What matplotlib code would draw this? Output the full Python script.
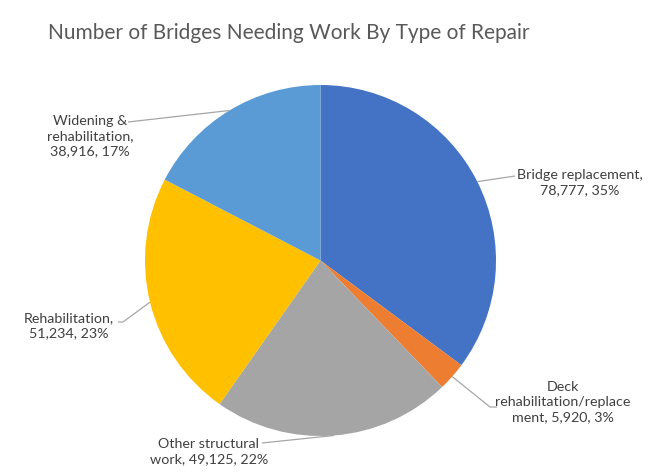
import matplotlib
matplotlib.use("Agg")
import matplotlib.pyplot as plt
import numpy as np

categories = ["Bridge replacement", "Deck rehabilitation/replacement",
              "Other structural work", "Rehabilitation", "Widening & rehabilitation"]
values = [78777, 5920, 49125, 51234, 38916]
colors = ["#4472C4", "#ED7D31", "#A5A5A5", "#FFC000", "#5B9BD5"]
title = "Number of Bridges Needing Work By Type of Repair"

total = sum(values)
pcts = [round(v / total * 100) for v in values]

# wrapped data labels (name, value, percent)
label_texts = [
    f"Bridge replacement,\n{values[0]:,}, {pcts[0]}%",
    f"Deck\nrehabilitation/replace\nment, {values[1]:,}, {pcts[1]}%",
    f"Other structural\nwork, {values[2]:,}, {pcts[2]}%",
    f"Rehabilitation,\n{values[3]:,}, {pcts[3]}%",
    f"Widening &\nrehabilitation,\n{values[4]:,}, {pcts[4]}%",
]

W, H = 650, 475
fig = plt.figure(figsize=(6.5, 4.75), dpi=100)
ax = fig.add_axes([0, 0, 1, 1])

cx, cy, R = 320.5, H - 260.5, 175.5
wedges, _ = ax.pie(values, colors=colors, startangle=90, counterclock=False,
                   center=(cx, cy), radius=R, frame=False,
                   wedgeprops=dict(linewidth=0))
ax.set_xlim(0, W)
ax.set_ylim(0, H)
ax.set_aspect("equal")
ax.axis("off")

FONT = "Lato"
txt_color = "#404040"
line_color = "#A6A6A6"

# label layout (pixel coords, top origin): block center, leader path end points
label_pos = [(580, 182.5), (563, 402), (209, 451.5), (69, 325.5), (90, 136)]
leader_end = [
    [(515, 176)],
    [(490, 407), (497, 407)],
    [(262, 443)],
    [(123, 322), (118, 322)],
    [(128, 122)],
]

for w, txt, (lx, ly), ends in zip(wedges, label_texts, label_pos, leader_end):
    mid = np.deg2rad((w.theta1 + w.theta2) / 2)
    ex, ey = cx + R * np.cos(mid), cy + R * np.sin(mid)
    xs = [ex] + [p[0] for p in ends]
    ys = [ey] + [H - p[1] for p in ends]
    ax.plot(xs, ys, color=line_color, lw=0.9, solid_capstyle="butt")
    ax.text(lx, H - ly, txt, ha="center", va="center", multialignment="center",
            fontsize=10.3, family=FONT, color=txt_color, linespacing=1.3)

fig.text(48 / W, 1 - 33 / H, title, ha="left", va="center",
         fontsize=15, family=FONT, color="#595959")

fig.savefig("out.png", dpi=100, facecolor="white")
